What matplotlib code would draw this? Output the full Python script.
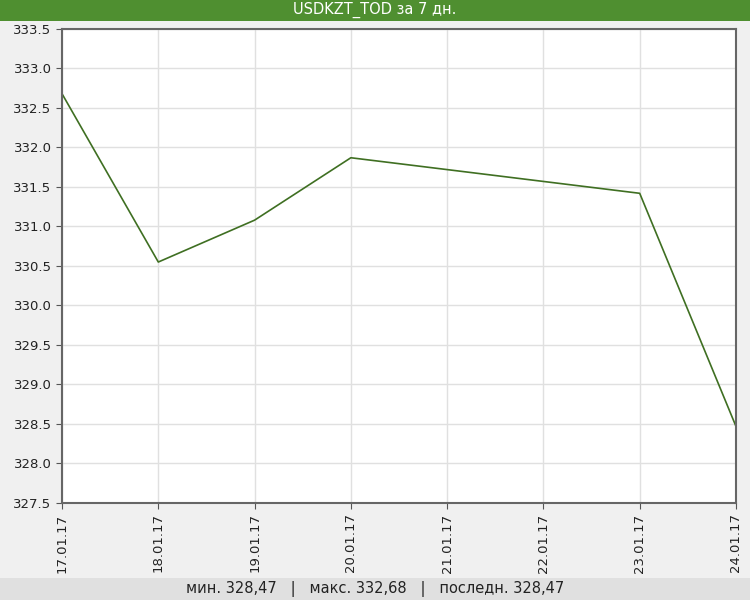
import matplotlib.pyplot as plt
from matplotlib.patches import Rectangle

# Data
dates = ["17.01.17", "18.01.17", "19.01.17", "20.01.17",
         "21.01.17", "22.01.17", "23.01.17", "24.01.17"]
trade_dates = ["17.01.17", "18.01.17", "19.01.17", "20.01.17", "23.01.17", "24.01.17"]
rates = [332.68, 330.55, 331.08, 331.87, 331.42, 328.47]
y_ticks = [327.5, 328.0, 328.5, 329.0, 329.5, 330.0, 330.5,
           331.0, 331.5, 332.0, 332.5, 333.0, 333.5]

title = "USDKZT_TOD за 7 дн."
footer = "мин. 328,47   |   макс. 332,68   |   последн. 328,47"

fig = plt.figure(figsize=(7.5, 6), dpi=100)
fig.patch.set_facecolor("#f0f0f0")

# title bar and footer bar
fig.patches.append(Rectangle((0, 0.965), 1, 0.035, transform=fig.transFigure,
                             facecolor="#4f8f30", edgecolor="none", zorder=0))
fig.patches.append(Rectangle((0, 0), 1, 0.037, transform=fig.transFigure,
                             facecolor="#e0e0e0", edgecolor="none", zorder=0))
fig.text(0.5, 0.983, title, ha="center", va="center", color="white", fontsize=10.5)
fig.text(0.5, 0.018, footer, ha="center", va="center", color="#222222", fontsize=10.5)

ax = fig.add_axes([0.0827, 0.1617, 0.8986, 0.79])
ax.set_facecolor("white")

x = [dates.index(d) for d in trade_dates]
ax.plot(x, rates, color="#3f6f22", lw=1.2)

ax.set_xlim(0, len(dates) - 1)
ax.set_ylim(y_ticks[0], y_ticks[-1])
ax.set_xticks(range(len(dates)))
ax.set_xticklabels(dates, rotation=90, fontsize=9.5, color="#222222")
ax.set_yticks(y_ticks)
ax.set_yticklabels([f"{v:.1f}" for v in y_ticks], fontsize=9.5, color="#222222")
ax.grid(True, color="#e0e0e0", lw=1)
ax.set_axisbelow(True)
ax.tick_params(length=4, color="#555555")

for side in ["left", "bottom", "top", "right"]:
    ax.spines[side].set_color("#666666")
    ax.spines[side].set_linewidth(1.5)

fig.savefig("out.png", dpi=100, facecolor=fig.get_facecolor())
